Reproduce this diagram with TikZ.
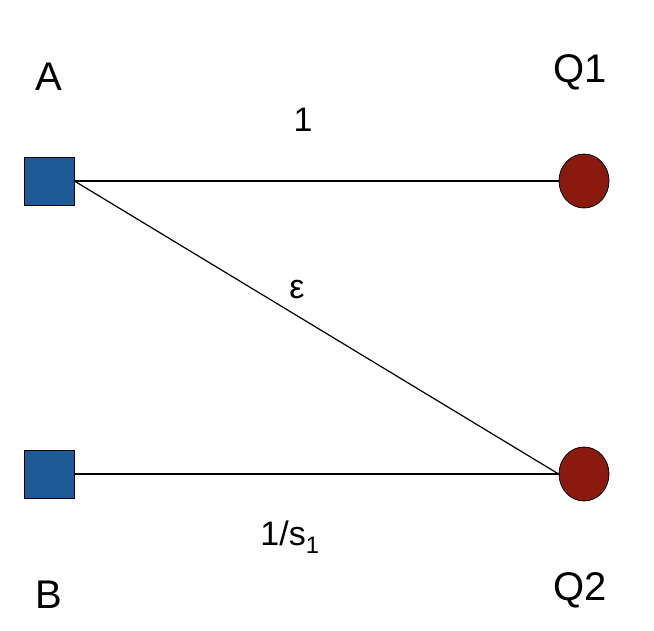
\documentclass[tikz,border=0pt]{standalone}
\usepackage{fontspec}
\usetikzlibrary{shapes.geometric}
\setmainfont{Liberation Sans}
\definecolor{sqblue}{HTML}{1F5A98}
\definecolor{cred}{HTML}{8A1A0E}
\begin{document}
\begin{tikzpicture}[x=1pt,y=1pt,
  sq/.style={draw=black,fill=sqblue,minimum width=50pt,minimum height=48pt,inner sep=0pt,line width=0.8pt},
  ci/.style={draw=black,fill=cred,ellipse,minimum width=50pt,minimum height=54pt,inner sep=0pt,line width=0.8pt},
  lbl/.style={font=\fontsize{40}{44}\selectfont},
  elbl/.style={font=\fontsize{34}{38}\selectfont},
  edge/.style={line width=1.2pt}]
\useasboundingbox (0,0) rectangle (654,630);
\node[sq] (A) at (49,449) {};
\node[sq] (B) at (49,156) {};
\node[ci] (Q1) at (584,449) {};
\node[ci] (Q2) at (584,156) {};
\node[lbl] (tA) at (49,553) {A};
\node[lbl] (tQ1) at (580,558) {Q1};
\node[lbl] (tB) at (49,35) {B};
\node[lbl] (tQ2) at (580,40) {Q2};
\draw[edge] (A.east) -- (Q1.west);
\draw[edge] (A.east) -- (Q2.west);
\draw[edge] (B.east) -- (Q2.west);
\node[elbl] (l1) at (303,510) {1};
\node[elbl] (le) at (297,340) {ε};
\node[elbl] (ls) at (290,93) {1/s\textsubscript{1}};
\end{tikzpicture}
\end{document}
